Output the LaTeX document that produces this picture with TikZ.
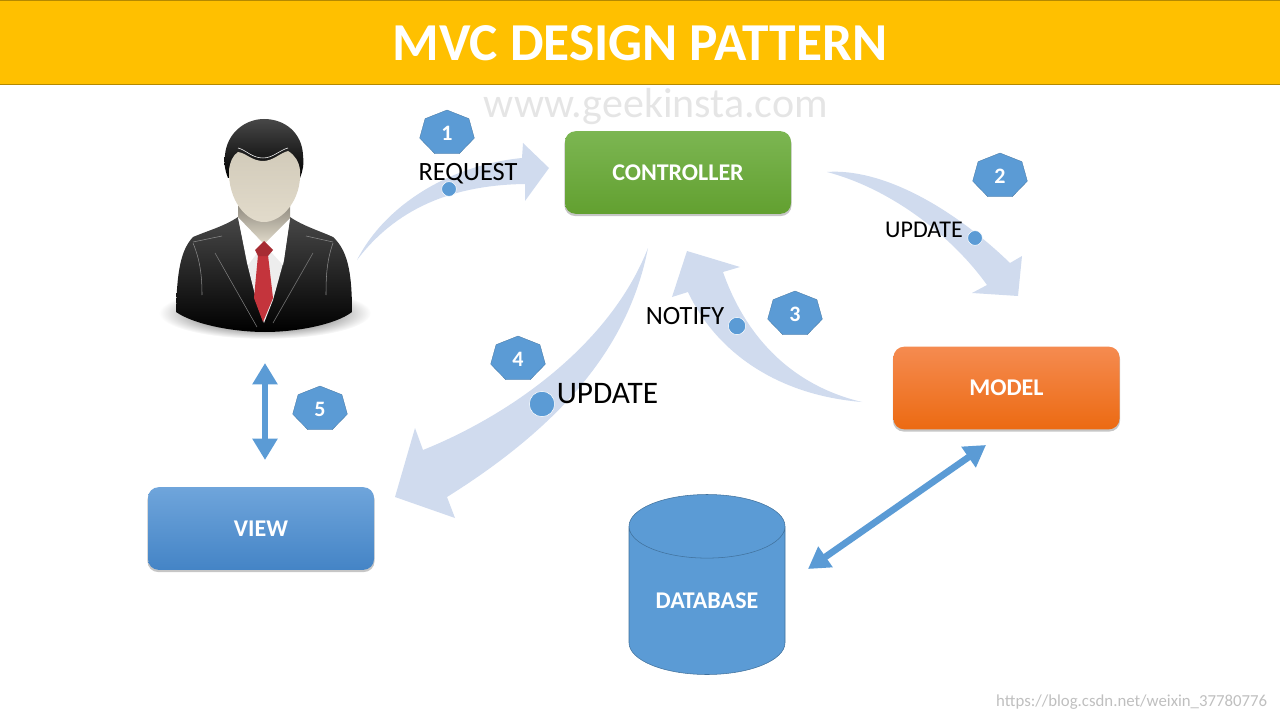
\documentclass[tikz,border=0pt]{standalone}
\usepackage{fontspec}
\setmainfont{Carlito}
\usepackage{tikz}
\usetikzlibrary{arrows.meta,shapes.geometric,shadows}

\definecolor{headerfill}{HTML}{FFC000}
\definecolor{headerline}{HTML}{B58900}
\definecolor{badgefill}{HTML}{5B9BD5}
\definecolor{badgeline}{HTML}{41719C}
\definecolor{flowfill}{HTML}{D0DBEE}
\definecolor{greentop}{HTML}{7CB652}
\definecolor{greenbot}{HTML}{62A030}
\definecolor{orangetop}{HTML}{F58B50}
\definecolor{orangebot}{HTML}{EC6A12}
\definecolor{bluetop}{HTML}{6FA5DB}
\definecolor{bluebot}{HTML}{4484C6}
\definecolor{skintop}{HTML}{D2CBBA}
\definecolor{skinbot}{HTML}{E2DBCB}
\definecolor{tiered}{HTML}{C4343C}

\newcommand{\badgetext}[1]{\scalebox{0.82}[1]{#1}}

\tikzset{
	boxnode/.style={rounded corners=8pt, minimum width=169.5pt, minimum height=62pt, text=white, font=\fontsize{18}{20}\selectfont\bfseries,
		drop shadow={opacity=0.45, shadow xshift=0pt, shadow yshift=-1.5pt, shadow scale=1.005}},
	badge/.style={shape=regular polygon, regular polygon sides=7, minimum size=34.5pt, inner sep=0pt, outer sep=0pt, fill=badgefill, draw=badgeline, very thin,
		xscale=1.22, transform shape, text=white, font=\fontsize{16.5}{18}\selectfont\bfseries},
	dotnode/.style={circle, fill=badgefill, draw=white, thin, inner sep=0pt},
	flowarrow/.style={fill=flowfill},
	twoway/.style={{Triangle[width=18pt,length=16pt]}-{Triangle[width=18pt,length=16pt]}, line width=5pt, color=badgefill}
}

\begin{document}
\begin{tikzpicture}[x=0.75pt,y=-0.75pt]
	\useasboundingbox (0,0) rectangle (1280,720);

	\draw[fill=headerfill,draw=headerline,thin] (-1,0) rectangle (1281,84);
	\node[text=white,font=\fontsize{40}{42}\selectfont\bfseries] (title) at (640,43) {MVC DESIGN PATTERN};
	\node[text=black!10,font=\fontsize{31.5}{33}\selectfont] (site) at (656,107) {www.geekinsta.com};
	\node[text=black!25,font=\fontsize{12.6}{14}\selectfont,anchor=east] (blog) at (1272,702) {https://blog.csdn.net/weixin\_37780776};

	% curved arrows
	\fill[flowarrow] (357,260) .. controls (385,205) and (450,165) .. (522,158) -- (523,143) -- (549,168) -- (525,201) -- (525,184) .. controls (450,185) and (395,210) .. cycle;
	\fill[flowarrow] (827,172) .. controls (880,168) and (950,205) .. (1010,263) -- (1022,256) -- (1018,296) -- (972,293) -- (987,285) .. controls (955,240) and (895,190) .. cycle;
	\fill[flowarrow] (862,402) .. controls (790,385) and (745,335) .. (723,272) -- (740,267) -- (687,251) -- (672,297) -- (688,292) .. controls (715,350) and (775,395) .. cycle;
	\fill[flowarrow] (648,248) .. controls (630,340) and (570,420) .. (447,497) -- (455,518) -- (395,497) -- (415,428) -- (423,450) .. controls (510,415) and (610,345) .. cycle;

	% person
	\shade[inner color=black,outer color=white] (265,313) ellipse [x radius=106, y radius=26];
	\shade[top color=black!72,bottom color=black] (238,217) .. controls (225,226) and (207,231) .. (193,237) .. controls (181,250) and (177,270) .. (176,312) .. controls (195,325) and (235,332) .. (265,332) .. controls (295,332) and (335,325) .. (352,312) .. controls (352,270) and (347,250) .. (333,237) .. controls (320,231) and (303,226) .. (290,217) -- cycle;
	\draw[black!50,thin] (215,253) -- (257,327) (313,253) -- (273,323);
	\draw[black!45,thin] (193,243) .. controls (200,260) and (202,275) .. (202,295) (333,243) .. controls (327,260) and (326,275) .. (326,295);
	\draw[black!45,thin] (193,242) -- (222,236) (333,242) -- (306,236);
	\fill[white!93!black] (238,217) -- (247,263) -- (258,307) -- (264,323) -- (273,300) -- (284,260) -- (290,218) -- cycle;
	\fill[white] (238,217) -- (264,244) -- (248,265) -- cycle (290,218) -- (264,244) -- (283,265) -- cycle;
	\shade[top color=skintop!70!black,bottom color=skinbot] (238,206) -- (238,217) -- (264,244) -- (290,218) -- (290,206) -- cycle;
	\fill[tiered] (258,255) -- (254,298) -- (263,322) -- (273,298) -- (268,255) -- cycle;
	\fill[tiered!85!black] (264,241) -- (273,250) -- (268,256) -- (258,256) -- (255,250) -- cycle;
	\shade[top color=black!72,bottom color=black] (228,178) .. controls (224,168) and (224,160) .. (225,155) .. controls (227,133) and (245,119) .. (264,119) .. controls (285,119) and (302,133) .. (303,155) .. controls (304,165) and (303,170) .. (300,178) -- cycle;
	\shade[top color=skintop,bottom color=skinbot] (229,170) .. controls (230,162) and (233,155) .. (238,152) .. controls (246,153) and (252,161) .. (263,161) .. controls (273,161) and (280,153) .. (288,151) .. controls (295,155) and (299,162) .. (300,170) .. controls (302,200) and (282,222) .. (264,222) .. controls (246,222) and (228,200) .. cycle;
	\draw[white,thin] (238,148) .. controls (246,150) and (252,158) .. (263,158) .. controls (273,158) and (280,150) .. (288,148);

	% main boxes
	\node[boxnode,top color=greentop,bottom color=greenbot] (controller) at (678,172.5) {CONTROLLER};
	\node[boxnode,top color=orangetop,bottom color=orangebot] (model) at (1006.5,388) {MODEL};
	\node[boxnode,top color=bluetop,bottom color=bluebot] (view) at (261,528.5) {VIEW};

	\node[shape=cylinder, shape border rotate=90, aspect=0.62, minimum width=117pt, minimum height=135pt, inner sep=0pt, anchor=shape center, fill=badgefill, draw=badgeline, text=white, font=\fontsize{18}{20}\selectfont\bfseries] (database) at (707,584.5) {DATABASE};

	% steps
	\node[badge] (stepa) at (447,133) {\badgetext{1}};
	\node[badge] (stepb) at (1000,176) {\badgetext{2}};
	\node[badge] (stepc) at (795,314) {\badgetext{3}};
	\node[badge] (stepd) at (518,359) {\badgetext{4}};
	\node[badge] (stepe) at (320,409) {\badgetext{5}};

	\node[dotnode,minimum size=11pt] (dota) at (449,189) {};
	\node[dotnode,minimum size=11pt] (dotb) at (975,238) {};
	\node[dotnode,minimum size=13pt] (dotc) at (737,326) {};
	\node[dotnode,minimum size=19pt] (dotd) at (542,404) {};

	\node[font=\fontsize{19.8}{21}\selectfont] (request) at (468,173.5) {REQUEST};
	\node[font=\fontsize{18}{19}\selectfont] (updatea) at (924,229.5) {UPDATE};
	\node[font=\fontsize{19.8}{21}\selectfont] (notify) at (685,316) {NOTIFY};
	\node[font=\fontsize{23.5}{25}\selectfont] (updateb) at (607.5,394) {UPDATE};

	\coordinate (usertop) at (265,363);
	\coordinate (viewtop) at (265,460);
	\coordinate (dbend) at (808,569);
	\coordinate (modelend) at (986,445);
	\draw[twoway] (usertop) -- (viewtop);
	\draw[twoway] (dbend) -- (modelend);
\end{tikzpicture}
\end{document}
